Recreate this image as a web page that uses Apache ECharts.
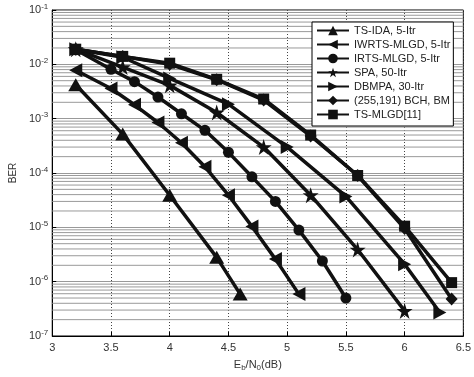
<!DOCTYPE html>
<html lang="en">
  <head>
    <meta charset="UTF-8" />
    <title>BER curves</title>
    <script src="https://cdn.jsdelivr.net/npm/echarts@6/dist/echarts.min.js"></script>
    <style>
      body { margin: 0; background: #fff; }
      .box { width: 474px; height: 377px; }
    </style>
  </head>
  <body>
    <div class="box"></div>
    <script>
      // data (Eb/N0 in dB, BER)
      var tsidaX = [3.2, 3.6, 4.0, 4.4, 4.6];
      var tsidaY = [4.2e-3, 5.2e-4, 3.9e-5, 2.8e-6, 5.9e-7];

      var iwrtsX = [3.2, 3.5, 3.7, 3.9, 4.1, 4.3, 4.5, 4.7, 4.9, 5.1];
      var iwrtsY = [7.8e-3, 3.6e-3, 1.8e-3, 8.5e-4, 3.6e-4, 1.3e-4, 3.9e-5, 1.04e-5, 2.6e-6, 5.9e-7];

      var irtsX = [3.2, 3.5, 3.7, 3.9, 4.1, 4.3, 4.5, 4.7, 4.9, 5.1, 5.3, 5.5];
      var irtsY = [1.85e-2, 8.1e-3, 4.8e-3, 2.5e-3, 1.23e-3, 6.1e-4, 2.4e-4, 8.5e-5, 3.0e-5, 8.9e-6, 2.4e-6, 5e-7];

      var spaX = [3.2, 3.6, 4.0, 4.4, 4.8, 5.2, 5.6, 6.0];
      var spaY = [1.9e-2, 8.9e-3, 4.1e-3, 1.3e-3, 3.0e-4, 3.9e-5, 3.9e-6, 2.9e-7];

      var dbmpaX = [3.2, 3.6, 4.0, 4.5, 5.0, 5.5, 6.0, 6.3];
      var dbmpaY = [1.9e-2, 1.35e-2, 5.5e-3, 1.85e-3, 3.0e-4, 3.7e-5, 2.1e-6, 2.7e-7];

      var bchX = [3.2, 3.6, 4.0, 4.4, 4.8, 5.2, 5.6, 6.0, 6.4];
      var bchY = [1.9e-2, 1.4e-2, 1.0e-2, 5.2e-3, 2.2e-3, 4.8e-4, 9e-5, 9.5e-6, 4.8e-7];

      var mlgdX = [3.2, 3.6, 4.0, 4.4, 4.8, 5.2, 5.6, 6.0, 6.4];
      var mlgdY = [1.9e-2, 1.4e-2, 1.05e-2, 5.3e-3, 2.3e-3, 5.0e-4, 9e-5, 1.05e-5, 9.6e-7];

      var names = [
        "TS-IDA, 5-Itr",
        "IWRTS-MLGD, 5-Itr",
        "IRTS-MLGD, 5-Itr",
        "SPA, 50-Itr",
        "DBMPA, 30-Itr",
        "(255,191) BCH, BM",
        "TS-MLGD[11]",
      ];

      var xMin = 3, xMax = 6.5;

      var starPath = "path://M50,0 L61.23,34.55 L97.55,34.55 L68.17,55.9 L79.39,90.45 L50,69.1 L20.61,90.45 L31.83,55.9 L2.45,34.55 L38.77,34.55 Z";
      var leftTri = "path://M0,50 L90,0 L90,100 Z";
      var rightTri = "path://M90,50 L0,0 L0,100 Z";

      function pairs(xs, ys) {
        var out = [];
        for (var i = 0; i < xs.length; i++) out.push([xs[i], ys[i]]);
        return out;
      }

      // minor horizontal grid lines at 2..9 x 10^k, one broken line across the plot
      var minorGrid = [];
      for (var k = -7; k <= -2; k++) {
        for (var m = 2; m <= 9; m++) {
          var v = m * Math.pow(10, k);
          minorGrid.push([xMin, v], [xMax, v], [xMax, "-"]);
        }
      }

      function curve(name, xs, ys, symbol, size) {
        return {
          name: name,
          type: "line",
          data: pairs(xs, ys),
          symbol: symbol,
          symbolSize: size,
          showAllSymbol: true,
          lineStyle: { color: "#111", width: 3.5 },
          itemStyle: { color: "#111" },
          z: 3,
        };
      }

      var chart = echarts.init(document.getElementsByClassName("box")[0]);
      chart.setOption({
        animation: false,
        backgroundColor: "#fff",
        textStyle: { fontFamily: "Liberation Sans" },
        grid: {
          left: 37, right: 9, top: 10, bottom: 31,
          show: true, borderColor: "#000", borderWidth: 1,
        },
        legend: {
          data: names,
          orient: "vertical",
          left: 312,
          top: 22,
          padding: [3, 3, 6, 4],
          itemGap: 3,
          itemWidth: 32,
          itemHeight: 12,
          backgroundColor: "#fff",
          borderColor: "#000",
          borderWidth: 1,
          borderRadius: 0,
          z: 10,
          textStyle: { fontSize: 11, color: "#222" },
        },
        xAxis: {
          type: "value",
          min: xMin,
          max: xMax,
          interval: 0.5,
          name: "E{s|b}/N{s|0}(dB)",
          nameLocation: "middle",
          nameGap: 22,
          nameTextStyle: {
            fontSize: 11, color: "#333",
            rich: { s: { fontSize: 8, padding: [6, 0, 0, 0], color: "#333" } },
          },
          axisLine: { lineStyle: { color: "#000" } },
          axisTick: { inside: true, length: 4, lineStyle: { color: "#000" } },
          axisLabel: { fontSize: 11, color: "#333", margin: 6 },
          splitLine: { show: true, lineStyle: { color: "#444", type: [1, 2], width: 1 } },
        },
        yAxis: {
          type: "log",
          logBase: 10,
          min: 1e-7,
          max: 1e-1,
          name: "BER",
          nameLocation: "middle",
          nameGap: 30,
          nameTextStyle: { fontSize: 10, color: "#333" },
          axisLine: { lineStyle: { color: "#000" } },
          axisTick: { inside: true, length: 4, lineStyle: { color: "#000" } },
          axisLabel: {
            margin: 4,
            formatter: function (v) {
              var e = Math.round(Math.log10(v));
              return "{b|10}{s|" + e + "}";
            },
            rich: {
              b: { fontSize: 11, color: "#333" },
              s: { fontSize: 8, color: "#333", padding: [0, 0, 7, 0] },
            },
          },
          splitLine: { show: true, lineStyle: { color: "#999", width: 1 } },
        },
        series: [
          {
            name: "minor grid",
            type: "line",
            data: minorGrid,
            symbol: "none",
            silent: true,
            connectNulls: false,
            lineStyle: { color: "#999", width: 1 },
            z: 1,
          },
          curve(names[0], tsidaX, tsidaY, "triangle", [15, 13]),
          curve(names[1], iwrtsX, iwrtsY, leftTri, [13, 14]),
          curve(names[2], irtsX, irtsY, "circle", 11),
          curve(names[3], spaX, spaY, starPath, 16),
          curve(names[4], dbmpaX, dbmpaY, rightTri, [13, 14]),
          curve(names[5], bchX, bchY, "diamond", [12, 13]),
          curve(names[6], mlgdX, mlgdY, "rect", 11),
        ],
      });
    </script>
  </body>
</html>
